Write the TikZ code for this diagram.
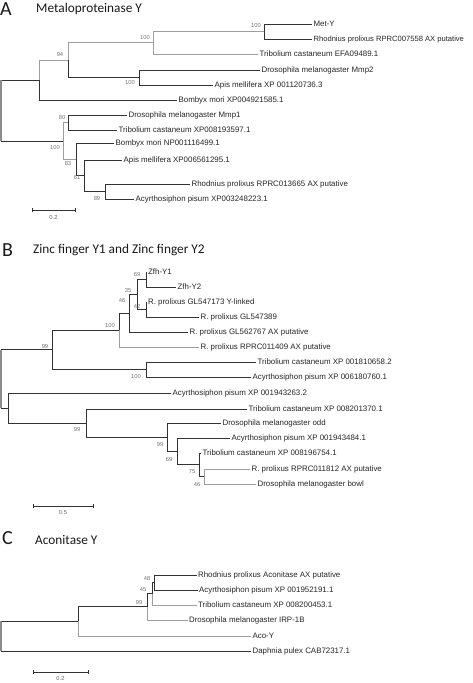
\documentclass[tikz,border=0pt]{standalone}
\usepackage{fontspec}
\setmainfont{Liberation Sans}
\newfontfamily\titlefont{Carlito}
\begin{document}
\begin{tikzpicture}[x=1pt,y=-1pt,
  br/.style={draw=black!80, line width=0.9pt},
  brg/.style={draw=black!38, line width=0.9pt},
  rootline/.style={draw=black!45, line width=1.8pt},
  leaf/.style={anchor=west, inner xsep=1.6pt, inner ysep=0pt, outer sep=0pt,
    font=\fontsize{7.9}{9}\selectfont, text=black!85, text height=6pt, text depth=1.6pt},
  bs/.style={font=\fontsize{5.8}{6}\selectfont, text=black!55, inner sep=0pt},
  ptitle/.style={font=\titlefont\fontsize{13.3}{15}\selectfont, anchor=base west, inner sep=0pt, text=black!90},
  pletter/.style={font=\titlefont\fontsize{20}{22}\selectfont, anchor=base west, inner sep=0pt, text=black!90},
  sbar/.style={draw=black!80, line width=0.9pt},
  slabel/.style={font=\fontsize{5.8}{6}\selectfont, text=black!60, inner sep=0pt}
]
\useasboundingbox (0,0) rectangle (472,683);

% ================= Panel A =================
\node[pletter] (LA) at (0,15) {A};
\node[ptitle] (TA) at (36,12.5) {Metaloproteinase Y};

\coordinate (n5) at (264,31.5);
\coordinate (n3) at (153,42.75);
\coordinate (n4) at (139,77.5);
\coordinate (n2) at (68,60.1);
\coordinate (n1) at (39,80);
\coordinate (m2) at (68,122.5);
\coordinate (m5) at (105,191.5);
\coordinate (m4) at (84,175.75);
\coordinate (m3) at (76,159.4);
\coordinate (m1) at (63,141);
\coordinate (rA) at (1,110.5);

\node[leaf] (a1) at (312,24) {Met-Y};
\node[leaf, font=\fontsize{7.6}{9}\selectfont] (a2) at (312,39) {Rhodnius prolixus RPRC007558 AX putative};
\node[leaf] (a3) at (258,54) {Tribolium castaneum EFA09489.1};
\node[leaf] (a4) at (260,70) {Drosophila melanogaster Mmp2};
\node[leaf] (a5) at (213,85) {Apis mellifera XP 001120736.3};
\node[leaf] (a6) at (177,100) {Bombyx mori XP004921585.1};
\node[leaf] (a7) at (127,115) {Drosophila melanogaster Mmp1};
\node[leaf] (a8) at (117,130) {Tribolium castaneum XP008193597.1};
\node[leaf] (a9) at (114,143) {Bombyx mori NP001116499.1};
\node[leaf] (a10) at (122,160) {Apis mellifera XP006561295.1};
\node[leaf] (a11) at (190,184) {Rhodnius prolixus RPRC013665 AX putative};
\node[leaf] (a12) at (134,199) {Acyrthosiphon pisum XP003248223.1};

\draw[br] (rA) |- (n1);
\draw[br] (rA) |- (m1);
\draw[brg] (n1) |- (n2);
\draw[br] (n1) |- (a6.west);
\draw[brg] (n2) |- (n3);
\draw[br] (n2) |- (n4);
\draw[brg] (n3) |- (n5);
\draw[brg] (n3) |- (a3.west);
\draw[br] (n5) |- (a1.west);
\draw[br] (n5) |- (a2.west);
\draw[br] (n4) |- (a4.west);
\draw[br] (n4) |- (a5.west);
\draw[brg] (m1) |- (m2);
\draw[brg] (m1) |- (m3);
\draw[br] (m2) |- (a7.west);
\draw[br] (m2) |- (a8.west);
\draw[br] (m3) |- (a9.west);
\draw[br] (m3) |- (m4);
\draw[br] (m4) |- (a10.west);
\draw[br] (m4) |- (m5);
\draw[br] (m5) |- (a11.west);
\draw[br] (m5) |- (a12.west);
\draw[rootline] (rA |- n1) -- (rA |- m1);

\node[bs] (bA1) at (256,26) {100};
\node[bs] (bA2) at (60,55) {94};
\node[bs] (bA3) at (145,38) {100};
\node[bs] (bA4) at (130,83) {100};
\node[bs] (bA5) at (62,117) {80};
\node[bs] (bA6) at (55,147) {100};
\node[bs] (bA7) at (68,163) {83};
\node[bs] (bA8) at (77,177) {61};
\node[bs] (bA9) at (97,198) {89};

\coordinate (sa1) at (32,210);
\coordinate (sa2) at (75,210);
\draw[sbar] (sa1) -- (sa2);
\draw[sbar] (sa1) ++(0,-2.2) -- ++(0,4.4);
\draw[sbar] (sa2) ++(0,-2.2) -- ++(0,4.4);
\node[slabel] (sA) at (53.5,217.5) {0.2};

% ================= Panel B =================
\node[pletter] (LB) at (2,256) {B};
\node[ptitle] (TB) at (33,253.5) {Zinc finger Y1 and Zinc finger Y2};

\coordinate (b6) at (146,279.5);
\coordinate (b7) at (146,309.5);
\coordinate (b5) at (137,294.5);
\coordinate (b4) at (129,313.25);
\coordinate (b2) at (119,330.1);
\coordinate (b3) at (146,369.5);
\coordinate (b1) at (52,349.8);
\coordinate (c6) at (204,476.5);
\coordinate (c5) at (199,464.75);
\coordinate (c4) at (177,451.4);
\coordinate (c3) at (167,437.2);
\coordinate (c2) at (86,423.1);
\coordinate (c1) at (8,408);
\coordinate (rB) at (1,378.9);

\node[leaf] (z1) at (146.5,272) {Zfh-Y1};
\node[leaf] (z2) at (176,287) {Zfh-Y2};
\node[leaf] (z3) at (146.5,302) {R. prolixus GL547173 Y-linked};
\node[leaf] (z4) at (199,317) {R. prolixus GL547389};
\node[leaf] (z5) at (188,332) {R. prolixus GL562767 AX putative};
\node[leaf] (z6) at (199,347) {R. prolixus RPRC011409 AX putative};
\node[leaf] (z7) at (256,362) {Tribolium castaneum XP 001810658.2};
\node[leaf] (z8) at (251,377) {Acyrthosiphon pisum XP 006180760.1};
\node[leaf] (z9) at (171,393) {Acyrthosiphon pisum XP 001943263.2};
\node[leaf] (z10) at (247,409) {Tribolium castaneum XP 008201370.1};
\node[leaf] (z11) at (221,423) {Drosophila melanogaster odd};
\node[leaf] (z12) at (230,438) {Acyrthosiphon pisum XP 001943484.1};
\node[leaf] (z13) at (201,453) {Tribolium castaneum XP 008196754.1};
\node[leaf] (z14) at (250,469) {R. prolixus RPRC011812 AX putative};
\node[leaf] (z15) at (256,484) {Drosophila melanogaster bowl};

\draw[br] (rB) |- (b1);
\draw[br] (rB) |- (c1);
\draw[br] (b1) |- (b2);
\draw[br] (b1) |- (b3);
\draw[br] (b2) |- (b4);
\draw[brg] (b2) |- (z6.west);
\draw[br] (b4) |- (b5);
\draw[br] (b4) |- (z5.west);
\draw[br] (b5) |- (b6);
\draw[br] (b5) |- (b7);
\draw[br] (b6) |- (z1.west);
\draw[br] (b6) |- (z2.west);
\draw[br] (b7) |- (z3.west);
\draw[br] (b7) |- (z4.west);
\draw[br] (b3) |- (z7.west);
\draw[br] (b3) |- (z8.west);
\draw[br] (c1) |- (z9.west);
\draw[br] (c1) |- (c2);
\draw[br] (c2) |- (z10.west);
\draw[br] (c2) |- (c3);
\draw[br] (c3) |- (z11.west);
\draw[br] (c3) |- (c4);
\draw[br] (c4) |- (z12.west);
\draw[br] (c4) |- (c5);
\draw[br] (c5) |- (z13.west);
\draw[br] (c5) |- (c6);
\draw[brg] (c6) |- (z14.west);
\draw[brg] (c6) |- (z15.west);
\draw[rootline] (rB |- b1) -- (rB |- c1);

\node[bs] (bB1) at (137,274) {69};
\node[bs] (bB2) at (128,290) {35};
\node[bs] (bB3) at (137,306) {42};
\node[bs] (bB4) at (122,300) {46};
\node[bs] (bB5) at (110,325) {100};
\node[bs] (bB6) at (45,346) {99};
\node[bs] (bB7) at (136,376) {100};
\node[bs] (bB8) at (77,429) {99};
\node[bs] (bB9) at (160,444) {99};
\node[bs] (bB10) at (169,459) {69};
\node[bs] (bB11) at (192,472) {75};
\node[bs] (bB12) at (197,484) {46};

\coordinate (sb1) at (33,506);
\coordinate (sb2) at (93,506);
\draw[sbar] (sb1) -- (sb2);
\draw[sbar] (sb1) ++(0,-2.2) -- ++(0,4.4);
\draw[sbar] (sb2) ++(0,-2.2) -- ++(0,4.4);
\node[slabel] (sB) at (63,512.5) {0.5};

% ================= Panel C =================
\node[pletter] (LC) at (2,544.5) {C};
\node[ptitle] (TC) at (35,544) {Aconitase Y};

\coordinate (d4) at (154,582.5);
\coordinate (d3) at (152,593.75);
\coordinate (d2) at (147,606.9);
\coordinate (d1) at (78,621.4);
\coordinate (rC) at (1,636.2);

\node[leaf] (y1) at (196.5,575) {Rhodnius prolixus Aconitase AX putative};
\node[leaf] (y2) at (197.5,590) {Acyrthosiphon pisum XP 001952191.1};
\node[leaf] (y3) at (196.5,605) {Tribolium castaneum XP 008200453.1};
\node[leaf] (y4) at (187.5,620) {Drosophila melanogaster IRP-1B};
\node[leaf] (y5) at (251,636) {Aco-Y};
\node[leaf] (y6) at (251,651) {Daphnia pulex CAB72317.1};

\draw[br] (rC) |- (d1);
\draw[br] (rC) |- (y6.west);
\draw[br] (d1) |- (d2);
\draw[brg] (d1) |- (y5.west);
\draw[br] (d2) |- (d3);
\draw[brg] (d2) |- (y4.west);
\draw[br] (d3) |- (d4);
\draw[brg] (d3) |- (y3.west);
\draw[br] (d4) |- (y1.west);
\draw[br] (d4) |- (y2.west);
\draw[rootline] (rC |- d1) -- (rC |- y6.west);

\node[bs] (bC1) at (147,578) {48};
\node[bs] (bC2) at (143,590) {45};
\node[bs] (bC3) at (139,602) {99};

\coordinate (sc1) at (33,672);
\coordinate (sc2) at (88,672);
\draw[sbar] (sc1) -- (sc2);
\draw[sbar] (sc1) ++(0,-2.2) -- ++(0,4.4);
\draw[sbar] (sc2) ++(0,-2.2) -- ++(0,4.4);
\node[slabel] (sC) at (60.5,678.5) {0.2};
\end{tikzpicture}
\end{document}
